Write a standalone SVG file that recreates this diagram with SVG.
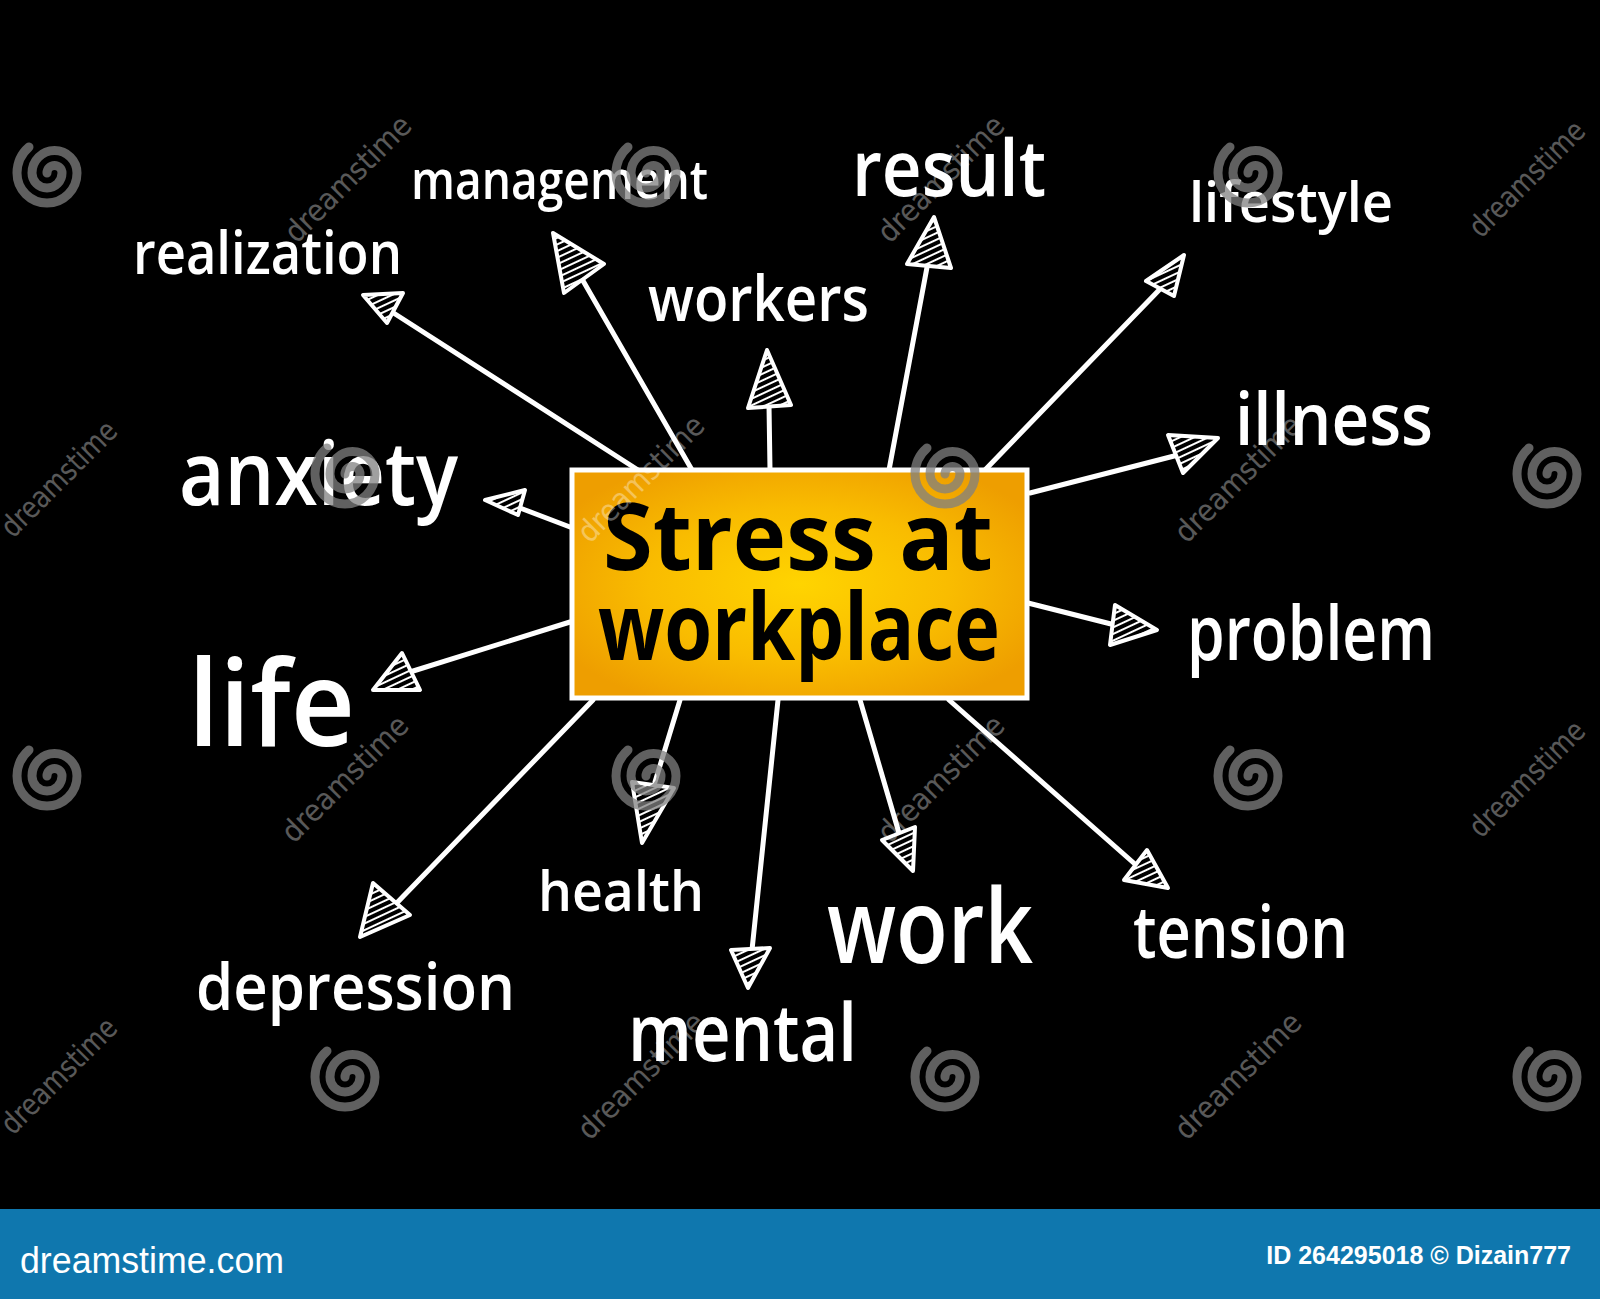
<svg xmlns="http://www.w3.org/2000/svg" width="1600" height="1299" viewBox="0 0 1600 1299">
<defs>
  <radialGradient id="boxGrad" cx="0.5" cy="0.5" r="0.6">
    <stop offset="0" stop-color="#FFD400"/>
    <stop offset="0.55" stop-color="#F9BC00"/>
    <stop offset="1" stop-color="#EE9E00"/>
  </radialGradient>
  <pattern id="hatch" patternUnits="userSpaceOnUse" width="6" height="6" patternTransform="rotate(65)">
    <rect width="6" height="6" fill="#000"/>
    <line x1="1" y1="0" x2="1" y2="6" stroke="#fff" stroke-width="2"/>
  </pattern>
  <path id="spiral" d="M -2 -4 A 7.5 7.5 0 0 1 13 -4 A 15 15 0 0 1 -17 -4 A 22.5 22.5 0 0 1 28 -4 A 30 30 0 0 1 -32 -4 A 35 35 0 0 1 -20 -30" fill="none" stroke-width="9" stroke-linecap="round"/>
  <style>
    .bg { fill: #000; }
    .label { font-family: "Open Sans", "Liberation Sans", sans-serif; font-weight: 600; fill: #fff; }
    .title { font-family: "Open Sans", "Liberation Sans", sans-serif; font-weight: 700; fill: #000; }
    .conn line { stroke: #fff; stroke-width: 5; stroke-linecap: round; }
    .conn polygon { fill: url(#hatch); stroke: #fff; stroke-width: 4; stroke-linejoin: round; }
    .wm-spiral use { stroke: #808080; opacity: 0.75; }
    .wm-text text { font-family: "DejaVu Sans", sans-serif; font-size: 30px; fill: #fff; opacity: 0.35; }
    .banner-text { font-family: "Liberation Sans", "DejaVu Sans", sans-serif; fill: #fff; }
  </style>
</defs>

<rect class="bg" x="0" y="0" width="1600" height="1299"/>

<!-- connectors -->
<g id="connectors" class="conn">
  <g id="c-realization"><line x1="638" y1="470" x2="392" y2="312"/><polygon points="363,295 403,293 387,323"/></g>
  <g id="c-management"><line x1="692" y1="470" x2="582" y2="279"/><polygon points="553,233 604,264 564,293"/></g>
  <g id="c-workers"><line x1="770" y1="470" x2="769" y2="405"/><polygon points="767,350 791,405 748,408"/></g>
  <g id="c-result"><line x1="889" y1="470" x2="928" y2="262"/><polygon points="934,217 951,268 907,264"/></g>
  <g id="c-lifestyle"><line x1="985" y1="470" x2="1162" y2="287"/><polygon points="1184,255 1174,296 1146,281"/></g>
  <g id="c-illness"><line x1="1030" y1="493" x2="1178" y2="455"/><polygon points="1218,438 1183,473 1168,435"/></g>
  <g id="c-problem"><line x1="1028" y1="603" x2="1115" y2="625"/><polygon points="1157,630 1110,645 1115,605"/></g>
  <g id="c-anxiety"><line x1="570" y1="527" x2="520" y2="508"/><polygon points="485,500 525,490 518,515"/></g>
  <g id="c-life"><line x1="570" y1="622" x2="410" y2="672"/><polygon points="373,690 402,653 420,690"/></g>
  <g id="c-depression"><line x1="593" y1="700" x2="390" y2="910"/><polygon points="360,937 373,883 410,915"/></g>
  <g id="c-health"><line x1="680" y1="700" x2="655" y2="782"/><polygon points="642,843 632,782 674,788"/></g>
  <g id="c-mental"><line x1="778" y1="700" x2="752" y2="950"/><polygon points="748,988 731,950 770,948"/></g>
  <g id="c-work"><line x1="860" y1="700" x2="899" y2="833"/><polygon points="913,871 882,840 915,827"/></g>
  <g id="c-tension"><line x1="949" y1="700" x2="1136" y2="865"/><polygon points="1168,888 1124,880 1147,850"/></g>
</g>

<!-- central node -->
<g id="node-center">
  <rect x="572" y="470" width="455" height="228" fill="url(#boxGrad)" stroke="#fff" stroke-width="5"/>
  <text class="title" x="603" y="570" font-size="94" textLength="390" lengthAdjust="spacingAndGlyphs">Stress at</text>
  <text class="title" x="598" y="660" font-size="94" textLength="402" lengthAdjust="spacingAndGlyphs">workplace</text>
</g>

<!-- labels -->
<g id="node-management"><text class="label" x="411" y="199" font-size="54" textLength="297" lengthAdjust="spacingAndGlyphs">management</text></g>
<g id="node-result"><text class="label" x="852" y="196" font-size="78" textLength="194" lengthAdjust="spacingAndGlyphs">result</text></g>
<g id="node-lifestyle"><text class="label" x="1189" y="222" font-size="56" textLength="204" lengthAdjust="spacingAndGlyphs">lifestyle</text></g>
<g id="node-realization"><text class="label" x="133" y="274" font-size="60" textLength="269" lengthAdjust="spacingAndGlyphs">realization</text></g>
<g id="node-workers"><text class="label" x="648" y="321" font-size="64" textLength="221" lengthAdjust="spacingAndGlyphs">workers</text></g>
<g id="node-anxiety"><text class="label" x="179" y="505" font-size="88" textLength="279" lengthAdjust="spacingAndGlyphs">anxiety</text></g>
<g id="node-illness"><text class="label" x="1235" y="445" font-size="72" textLength="198" lengthAdjust="spacingAndGlyphs">illness</text></g>
<g id="node-problem"><text class="label" x="1187" y="660" font-size="76" textLength="248" lengthAdjust="spacingAndGlyphs">problem</text></g>
<g id="node-life"><text class="label" x="188" y="746" font-size="120" textLength="167" lengthAdjust="spacingAndGlyphs">life</text></g>
<g id="node-health"><text class="label" x="538" y="911" font-size="56" textLength="166" lengthAdjust="spacingAndGlyphs">health</text></g>
<g id="node-depression"><text class="label" x="196" y="1010" font-size="66" textLength="319" lengthAdjust="spacingAndGlyphs">depression</text></g>
<g id="node-mental"><text class="label" x="628" y="1061" font-size="80" textLength="229" lengthAdjust="spacingAndGlyphs">mental</text></g>
<g id="node-work"><text class="label" x="827" y="963" font-size="104" textLength="206" lengthAdjust="spacingAndGlyphs">work</text></g>
<g id="node-tension"><text class="label" x="1133" y="958" font-size="72" textLength="215" lengthAdjust="spacingAndGlyphs">tension</text></g>

<!-- watermark -->
<g id="watermark-spirals" class="wm-spiral">
  <use href="#spiral" x="49" y="177"/>
  <use href="#spiral" x="648" y="177"/>
  <use href="#spiral" x="1250" y="177"/>
  <use href="#spiral" x="347" y="478"/>
  <use href="#spiral" x="947" y="478"/>
  <use href="#spiral" x="1549" y="478"/>
  <use href="#spiral" x="49" y="780"/>
  <use href="#spiral" x="648" y="780"/>
  <use href="#spiral" x="1250" y="780"/>
  <use href="#spiral" x="347" y="1081"/>
  <use href="#spiral" x="947" y="1081"/>
  <use href="#spiral" x="1549" y="1081"/>
</g>
<g id="watermark-text" class="wm-text" text-anchor="middle">
  <text transform="translate(355,186) rotate(-45)" textLength="165" lengthAdjust="spacingAndGlyphs">dreamstime</text>
  <text transform="translate(948,186) rotate(-45)" textLength="165" lengthAdjust="spacingAndGlyphs">dreamstime</text>
  <text transform="translate(1534,186) rotate(-45)" textLength="150" lengthAdjust="spacingAndGlyphs">dreamstime</text>
  <text transform="translate(66,486) rotate(-45)" textLength="150" lengthAdjust="spacingAndGlyphs">dreamstime</text>
  <text transform="translate(648,486) rotate(-45)" textLength="165" lengthAdjust="spacingAndGlyphs">dreamstime</text>
  <text transform="translate(1245,486) rotate(-45)" textLength="165" lengthAdjust="spacingAndGlyphs">dreamstime</text>
  <text transform="translate(352,786) rotate(-45)" textLength="165" lengthAdjust="spacingAndGlyphs">dreamstime</text>
  <text transform="translate(948,786) rotate(-45)" textLength="165" lengthAdjust="spacingAndGlyphs">dreamstime</text>
  <text transform="translate(1534,786) rotate(-45)" textLength="150" lengthAdjust="spacingAndGlyphs">dreamstime</text>
  <text transform="translate(66,1083) rotate(-45)" textLength="150" lengthAdjust="spacingAndGlyphs">dreamstime</text>
  <text transform="translate(648,1083) rotate(-45)" textLength="165" lengthAdjust="spacingAndGlyphs">dreamstime</text>
  <text transform="translate(1245,1083) rotate(-45)" textLength="165" lengthAdjust="spacingAndGlyphs">dreamstime</text>
</g>

<!-- banner -->
<g id="banner">
  <rect x="0" y="1209" width="1600" height="90" fill="#0f77ae"/>
  <text class="banner-text" x="20" y="1273" font-size="36" textLength="264" lengthAdjust="spacingAndGlyphs">dreamstime.com</text>
  <text class="banner-text" x="1571" y="1264" font-size="25" font-weight="700" text-anchor="end">ID 264295018 © Dizain777</text>
</g>
</svg>
